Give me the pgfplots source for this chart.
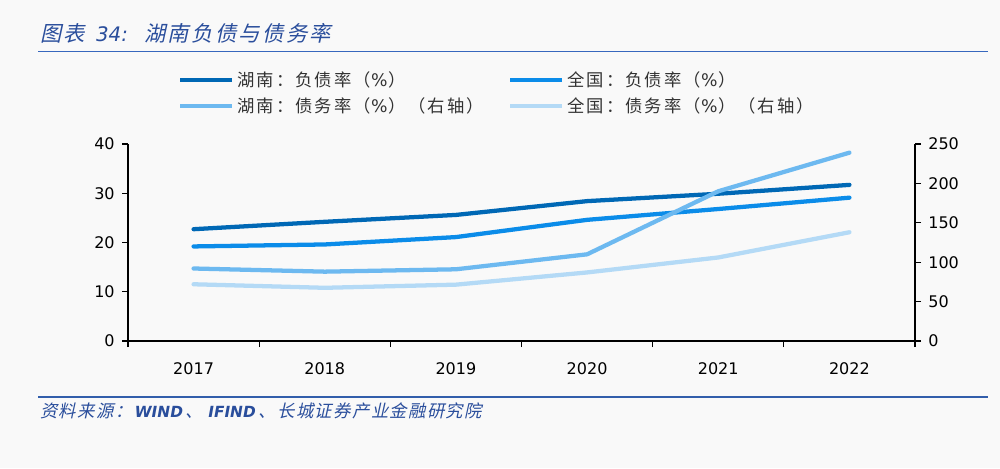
\documentclass[border=0pt]{standalone}
\usepackage{pgfplots}
\pgfplotsset{compat=1.18}
\usepackage{fontspec}
\setmainfont{DejaVu Sans}
\newfontfamily\dv{DejaVu Sans}
\newfontfamily\cjkleg[LetterSpace=12]{Noto Sans CJK SC}
\newfontfamily\cjkit[FakeSlant=0.22,LetterSpace=11]{Noto Sans CJK SC}
\newfontfamily\cjksrc[FakeSlant=0.22,LetterSpace=8]{Noto Sans CJK SC}
\newfontfamily\latit[FakeSlant=0.18]{DejaVu Sans}

\definecolor{bgc}{HTML}{F9F9F9}
\definecolor{hnDebt}{HTML}{0068B5}
\definecolor{cnDebt}{HTML}{0B8CE9}
\definecolor{hnRatio}{HTML}{6DB9F0}
\definecolor{cnRatio}{HTML}{B4DAF6}
\definecolor{titleblue}{HTML}{2A4E9C}
\definecolor{rulec}{HTML}{3868BE}
\definecolor{txt}{HTML}{333333}

% liability ratio (%), left axis
\pgfplotstableread{
x y
0 22.7
1 24.2
2 25.6
3 28.4
4 29.9
5 31.7
}\hnDebtTab
\pgfplotstableread{
x y
0 19.2
1 19.6
2 21.1
3 24.6
4 26.8
5 29.1
}\cnDebtTab
% debt ratio (%), right axis
\pgfplotstableread{
x y
0 92
1 88
2 91
3 110
4 190
5 239
}\hnRatioTab
\pgfplotstableread{
x y
0 72
1 67.5
2 71.5
3 87
4 106
5 138
}\cnRatioTab

\newcommand\pct{{\dv\fontsize{13pt}{15pt}\selectfont\%}}
\newcommand\srclat[1]{{\latit\bfseries\fontsize{11.5pt}{14pt}\selectfont #1}}

\begin{document}
\begin{tikzpicture}
\begin{scope}[x=0.75pt,y=0.75pt]
\fill[bgc] (0,0) rectangle (1000,468);
\coordinate (O) at (128,127);

% heading and rules
\node[anchor=west,inner sep=0pt,text=titleblue] at (40,435)
  {\cjkit\fontsize{16pt}{18pt}\selectfont 图表\hspace{7pt}{\latit\fontsize{15pt}{18pt}\selectfont 34:}\hspace{13pt}湖南负债与债务率};
\draw[rulec,line width=1.1pt] (38,416.5) -- (988,416.5);
\draw[rulec!90!black,line width=1.3pt] (38,71) -- (988,71);
\node[anchor=west,inner sep=0pt,text=titleblue] at (40,57)
  {\cjksrc\fontsize{13pt}{15pt}\selectfont 资料来源：\hspace{1pt}\srclat{WIND}\hspace{3pt}、\hspace{3pt}\srclat{IFIND}\hspace{3pt}、\hspace{1pt}长城证券产业金融研究院};

% legend
\begin{scope}[line width=3.2pt]
\draw[hnDebt]  (180,388) -- (232,388);
\draw[cnDebt]  (510,388) -- (562,388);
\draw[hnRatio] (180,362) -- (232,362);
\draw[cnRatio] (510,362) -- (562,362);
\end{scope}
\begin{scope}[every node/.style={anchor=west,inner sep=0pt,text=txt,font=\cjkleg\fontsize{13pt}{15pt}\selectfont}]
\node at (237,388) {湖南：负债率（\pct\hspace{1pt}）};
\node at (567,388) {全国：负债率（\pct\hspace{1pt}）};
\node at (237,362) {湖南：债务率（\pct\hspace{1pt}）（右轴）};
\node at (567,362) {全国：债务率（\pct\hspace{1pt}）（右轴）};
\end{scope}
\end{scope}

\pgfplotsset{
  base/.style={
    scale only axis,
    width=590.25pt, height=147.75pt,
    at={(O)}, anchor=south west,
    xmin=-0.5, xmax=5.5,
    ymin=0,
    tick align=outside,
    tick style={line width=0.9pt,black},
    axis line style={line width=0.9pt,black},
    major tick length=4.5pt,
    minor tick length=4.5pt,
    tick label style={font=\fontsize{12pt}{14pt}\selectfont,text=black},
    /pgf/number format/assume math mode=true,
    clip=false,
  },
  ser/.style={line width=3.2pt,line join=round,line cap=round,mark=none},
}

\begin{axis}[base,
  axis x line*=bottom, axis y line*=left,
  ymax=40, ytick={0,10,...,40},
  xtick={0,...,5},
  xticklabels={2017,2018,2019,2020,2021,2022},
  major x tick style={draw=none},
  minor xtick={-0.5,0.5,...,5.5},
  xticklabel style={yshift=-8pt},
  yticklabel style={xshift=-2pt},
]
\addplot[ser,cnDebt] table {\cnDebtTab};
\addplot[ser,hnDebt] table {\hnDebtTab};
\end{axis}

\begin{axis}[base,
  axis x line=none, axis y line*=right,
  ymax=250, ytick={0,50,...,250},
  yticklabel style={xshift=2pt},
]
\addplot[ser,cnRatio] table {\cnRatioTab};
\addplot[ser,hnRatio] table {\hnRatioTab};
\end{axis}
\end{tikzpicture}
\end{document}
